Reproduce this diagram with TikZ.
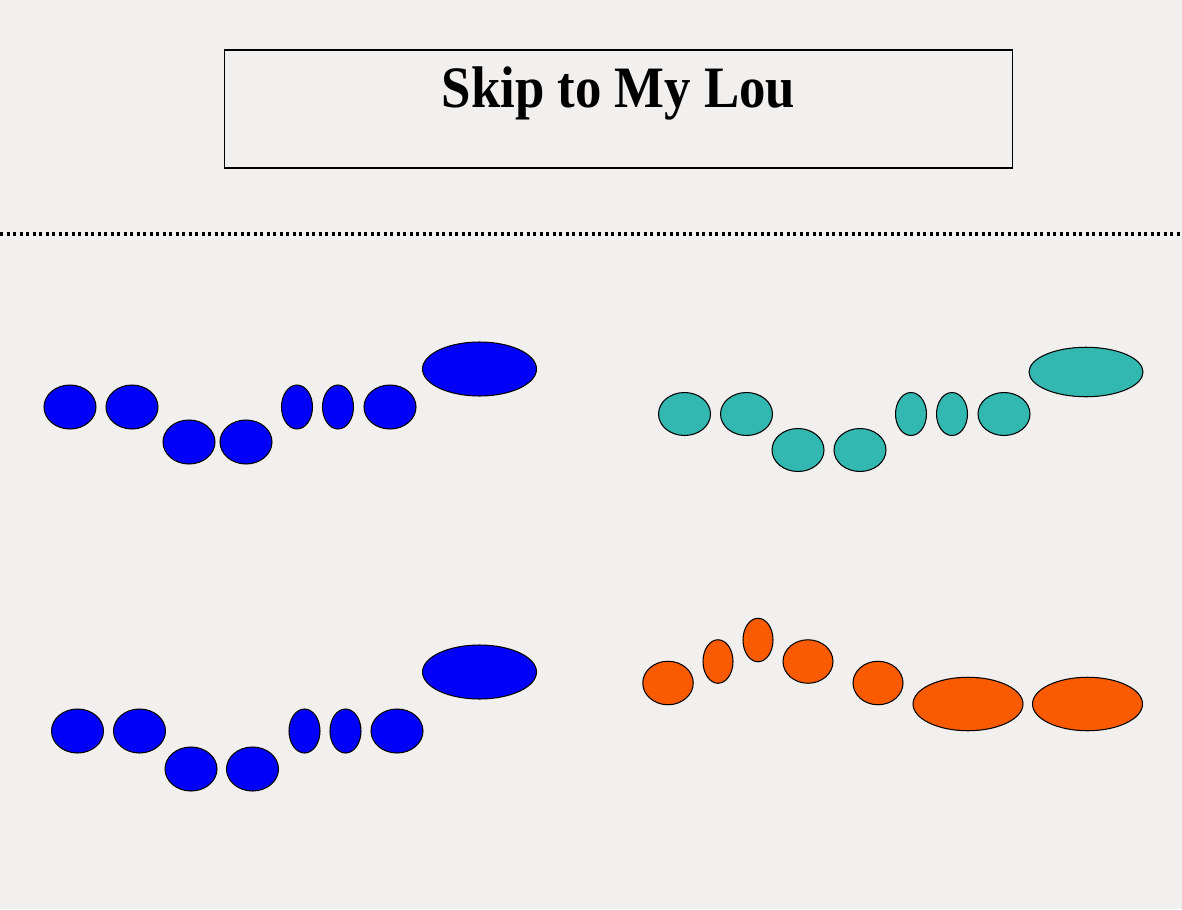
\documentclass[tikz,border=0pt]{standalone}
\usepackage{fontspec}
\setmainfont{Liberation Serif}
\newfontfamily\titlefont[FakeStretch=0.9]{Liberation Serif}
\usepackage{xcolor}
\usepackage{tikz}
\usetikzlibrary{shapes.geometric, positioning}
\definecolor{paper}{RGB}{242,240,238}
\definecolor{blobblue}{RGB}{0,0,250}
\definecolor{blobteal}{RGB}{50,184,176}
\definecolor{blobora}{RGB}{250,90,0}
\tikzset{blob/.style={ellipse,draw=black,line width=0.6pt,inner sep=0pt},
         round/.style={blob,minimum width=1.04cm,minimum height=0.88cm},
         narrow/.style={blob,minimum width=0.62cm,minimum height=0.88cm},
         long/.style={blob,minimum width=2.28cm,minimum height=1.08cm},
         titlebox/.style={rectangle,draw,line width=0.6pt,minimum width=15.77cm,minimum height=2.36cm,inner sep=0pt},
         dotline/.style={line width=1.8pt,dash pattern=on 1.8pt off 1.9pt}}

\begin{document}
\begin{tikzpicture}[x=0.02cm,y=-0.02cm]
    \fill[paper] (0,0) rectangle (1182,909);
    \useasboundingbox (0,0) rectangle (1182,909);
    % Title
    \node (titlebox) at (618.75,109) [titlebox]{};
    \node (title) at (618.5,108) [anchor=base,font=\titlefont\bfseries\fontsize{33.4}{40}\selectfont]{Skip to My Lou};
    % Rule
    \coordinate (ruleL) at (0,234);
    \coordinate (ruleR) at (1182,234);
    \draw[dotline] (ruleL) -- (ruleR);
    % Top left (blue)
    \node (tl1) at (70,407) [round,fill=blobblue]{};
    \node (tl2) at (132,407) [round,fill=blobblue]{};
    \node (tl3) at (189,442) [round,fill=blobblue]{};
    \node (tl4) at (246,442) [round,fill=blobblue]{};
    \node (tl5) at (297,407) [narrow,fill=blobblue]{};
    \node (tl6) at (338,407) [narrow,fill=blobblue]{};
    \node (tl7) at (390,407) [round,fill=blobblue]{};
    \node (tl8) at (479.5,369) [long,fill=blobblue]{};
    % Top right (teal)
    \node (tr1) at (684.5,414) [round,fill=blobteal,minimum height=0.86cm]{};
    \node (tr2) at (746.5,414) [round,fill=blobteal,minimum height=0.86cm]{};
    \node (tr3) at (798,450) [round,fill=blobteal,minimum height=0.86cm]{};
    \node (tr4) at (860,450) [round,fill=blobteal,minimum height=0.86cm]{};
    \node (tr5) at (911,414) [narrow,fill=blobteal,minimum height=0.86cm]{};
    \node (tr6) at (952,414) [narrow,fill=blobteal,minimum height=0.86cm]{};
    \node (tr7) at (1004,414) [round,fill=blobteal,minimum height=0.86cm]{};
    \node (tr8) at (1086,372) [long,fill=blobteal,minimum height=0.99cm]{};
    % Bottom left (blue)
    \node (bl1) at (77.5,731) [round,fill=blobblue]{};
    \node (bl2) at (139.5,731) [round,fill=blobblue]{};
    \node (bl3) at (191,769) [round,fill=blobblue]{};
    \node (bl4) at (252.5,769) [round,fill=blobblue]{};
    \node (bl5) at (304.5,731) [narrow,fill=blobblue]{};
    \node (bl6) at (345.5,731) [narrow,fill=blobblue]{};
    \node (bl7) at (397,731) [round,fill=blobblue]{};
    \node (bl8) at (479.5,672) [long,fill=blobblue]{};
    % Bottom right (orange)
    \node (br1) at (668,683) [round,fill=blobora,minimum width=1.01cm,minimum height=0.87cm]{};
    \node (br2) at (718,661.5) [narrow,fill=blobora,minimum width=0.6cm,minimum height=0.87cm]{};
    \node (br3) at (758,640) [narrow,fill=blobora,minimum width=0.6cm,minimum height=0.87cm]{};
    \node (br4) at (808,661.5) [round,fill=blobora,minimum width=1.0cm,minimum height=0.87cm]{};
    \node (br5) at (878,683) [round,fill=blobora,minimum width=1.0cm,minimum height=0.87cm]{};
    \node (br6) at (968,704) [long,fill=blobora,minimum width=2.2cm,minimum height=1.07cm]{};
    \node (br7) at (1087.5,704) [long,fill=blobora,minimum width=2.2cm,minimum height=1.07cm]{};
  \end{tikzpicture}
\end{document}
